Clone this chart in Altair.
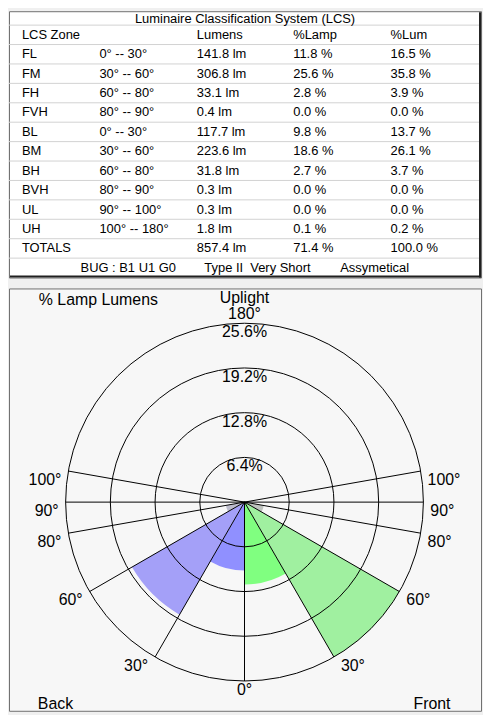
import math
import altair as alt
import pandas as pd

# ---------------- data ----------------
zones = ["FL", "FM", "FH", "FVH", "BL", "BM", "BH", "BVH", "UL", "UH"]
zone_ranges = ["0° -- 30°", "30° -- 60°", "60° -- 80°", "80° -- 90°",
               "0° -- 30°", "30° -- 60°", "60° -- 80°", "80° -- 90°",
               "90° -- 100°", "100° -- 180°"]
zone_start = [0, 30, 60, 80, 0, 30, 60, 80, 90, 100]
zone_end = [30, 60, 80, 90, 30, 60, 80, 90, 100, 180]
zone_side = ["Front", "Front", "Front", "Front", "Back", "Back", "Back", "Back", "Up", "Up"]
lumens = [141.8, 306.8, 33.1, 0.4, 117.7, 223.6, 31.8, 0.3, 0.3, 1.8]
pct_lamp = [11.8, 25.6, 2.8, 0.0, 9.8, 18.6, 2.7, 0.0, 0.0, 0.1]
pct_lum = [16.5, 35.8, 3.9, 0.0, 13.7, 26.1, 3.7, 0.0, 0.0, 0.2]
total_lumens = 857.4
total_lamp = 71.4
total_lum = 100.0
table_title = "Luminaire Classification System (LCS)"
header = ["LCS Zone", "", "Lumens", "%Lamp", "%Lum"]
bug_texts = ["BUG : B1 U1 G0", "Type II\u00a0 Very Short", "Assymetical"]

ring_values = [6.4, 12.8, 19.2, 25.6]
ray_angles = [0, 30, 60, 80, 90, 100]
angle_labels = [30, 60, 80, 90, 100]

zone_colors = ["#80ff80", "#a0f0a0", "#c0c4c0", "#c0c4c0",
               "#9090ff", "#a4a0f8", "#bcbccc", "#bcbccc",
               "#707070", "#707070"]

# ---------------- layout ----------------
FONT = "Liberation Sans"
W = 475
TABLE_H = 268
TITLE_H = 14
GAP = 8
POLAR_H = 701 - TABLE_H - GAP
R_MAX = 25.6
R_PX = 180
k = R_PX / R_MAX
CX, CY = 237, 215

# ---------------- table ----------------
row_keys = ["header"] + zones + ["totals", "bug"]
cells = []
for c, h in zip(["c1", "c2", "c3", "c4", "c5"], header):
    if h:
        cells.append(dict(row="header", col=c, text=h))
for i, z in enumerate(zones):
    cells.append(dict(row=z, col="c1", text=z))
    cells.append(dict(row=z, col="c2", text=zone_ranges[i]))
    cells.append(dict(row=z, col="c3", text=f"{lumens[i]:.1f} lm"))
    cells.append(dict(row=z, col="c4", text=f"{pct_lamp[i]:.1f} %"))
    cells.append(dict(row=z, col="c5", text=f"{pct_lum[i]:.1f} %"))
cells.append(dict(row="totals", col="c1", text="TOTALS"))
cells.append(dict(row="totals", col="c3", text=f"{total_lumens:.1f} lm"))
cells.append(dict(row="totals", col="c4", text=f"{total_lamp:.1f} %"))
cells.append(dict(row="totals", col="c5", text=f"{total_lum:.1f} %"))
for c, t in zip(["b1", "b2", "b3"], bug_texts):
    cells.append(dict(row="bug", col=c, text=t))
cells_df = pd.DataFrame(cells)

col_x = {"c1": 13, "c2": 91, "c3": 189, "c4": 286, "c5": 384,
         "b1": 120, "b2": 250, "b3": 368}
col_align = {"c1": "left", "c2": "left", "c3": "left", "c4": "left", "c5": "left",
             "b1": "center", "b2": "center", "b3": "center"}

yrow = alt.Scale(domain=row_keys, range=[TITLE_H, TABLE_H], paddingInner=0, paddingOuter=0)

table_layers = []
lines_df = pd.DataFrame({"row": row_keys})
table_layers.append(
    alt.Chart(lines_df).mark_rule(color="#d2d2d2", strokeWidth=1).encode(
        y=alt.Y("row:N", scale=yrow, axis=None, bandPosition=0),
        x=alt.value(0), x2=alt.value(W),
    )
)
for c in col_x:
    table_layers.append(
        alt.Chart(cells_df).transform_filter(alt.datum.col == c)
        .mark_text(font=FONT, fontSize=13, align=col_align[c], baseline="middle", color="black")
        .encode(
            y=alt.Y("row:N", scale=yrow, axis=None),
            x=alt.value(col_x[c]),
            text="text:N",
        )
    )
title_df = pd.DataFrame({"text": [table_title]})
table_layers.append(
    alt.Chart(title_df).mark_text(font=FONT, fontSize=13, align="center", baseline="middle",
                                  color="black").encode(
        x=alt.value(W / 2), y=alt.value(TITLE_H / 2 + 0.5), text="text:N"))
border_df = pd.DataFrame({"b": [0]})
table_layers.append(
    alt.Chart(border_df).mark_rule(color="#202020", strokeWidth=2).encode(
        x=alt.value(W - 1), y=alt.value(1), y2=alt.value(TABLE_H)))
table_layers.append(
    alt.Chart(border_df).mark_rule(color="#202020", strokeWidth=2).encode(
        x=alt.value(1), x2=alt.value(W), y=alt.value(TABLE_H - 1)))

table = alt.layer(*table_layers).properties(
    width=W, height=TABLE_H,
    view=alt.ViewBackground(fill="white", stroke="#707070", strokeWidth=1),
)

# ---------------- polar ----------------
xs = alt.Scale(domain=[-CX / k, (W - CX) / k], nice=False, zero=False)
ys = alt.Scale(domain=[-(POLAR_H - CY) / k, CY / k], nice=False, zero=False)
ts = alt.Scale(domain=[0, 360], range=[0, 2 * math.pi])
rs = alt.Scale(type="linear", domain=[0, R_MAX], range=[0, R_PX], zero=True)

wrows = []
for i, z in enumerate(zones):
    sides = ["Front", "Back"] if zone_side[i] == "Up" else [zone_side[i]]
    for s in sides:
        wrows.append(dict(zone=z, side=s, start=zone_start[i], end=zone_end[i], pct=pct_lamp[i]))
wedge_df = pd.DataFrame(wrows)

XC = alt.X("cx:Q", scale=xs, axis=None)
YC = alt.Y("cy:Q", scale=ys, axis=None)

wedges = alt.Chart(wedge_df).transform_calculate(
    cx="0", cy="0",
    t1="datum.side == 'Front' ? 180 - datum.end : 180 + datum.start",
    t2="datum.side == 'Front' ? 180 - datum.start : 180 + datum.end",
).mark_arc(strokeWidth=0).encode(
    x=XC, y=YC,
    theta=alt.Theta("t1:Q", scale=ts),
    theta2="t2:Q",
    radius=alt.Radius("pct:Q", scale=rs),
    color=alt.Color("zone:N", scale=alt.Scale(domain=zones, range=zone_colors), legend=None),
)

rings_df = pd.DataFrame({"ring": ring_values,
                         "label": [f"{v:.1f}%" for v in ring_values]})
rings = alt.Chart(rings_df).transform_calculate(
    cx="0", cy="0", t1="0", t2="360"
).mark_arc(fillOpacity=0, stroke="black", strokeWidth=1).encode(
    x=XC, y=YC,
    theta=alt.Theta("t1:Q", scale=ts), theta2="t2:Q",
    radius=alt.Radius("ring:Q", scale=rs),
)

rays_df = pd.DataFrame([dict(angle=a, side=s) for a in ray_angles for s in [1, -1]])
rays = alt.Chart(rays_df).transform_calculate(
    cx="0", cy="0",
    rx=f"datum.side * {R_MAX} * sin(datum.angle * PI / 180)",
    ry=f"-{R_MAX} * cos(datum.angle * PI / 180)",
).mark_rule(color="black", strokeWidth=1).encode(
    x=XC, y=YC, x2="rx:Q", y2="ry:Q",
)

ring_labels = alt.Chart(rings_df).transform_calculate(cx="0").mark_text(
    font=FONT, fontSize=16, baseline="top", dy=1, color="black"
).encode(x=XC, y=alt.Y("ring:Q", scale=ys, axis=None), text="label:N")

lab_df = pd.DataFrame({"angle": angle_labels,
                       "label": [f"{a}°" for a in angle_labels]})

def side_labels(sign, align, dx):
    return alt.Chart(lab_df).transform_calculate(
        lx=f"{sign} * {R_MAX} * sin(datum.angle * PI / 180)",
        ly=f"-{R_MAX} * cos(datum.angle * PI / 180)",
    ).mark_text(font=FONT, fontSize=16, align=align, baseline="top", dx=dx, dy=1,
                color="black").encode(
        x=alt.X("lx:Q", scale=xs, axis=None),
        y=alt.Y("ly:Q", scale=ys, axis=None),
        text="label:N",
    )

right_labels = side_labels(1, "left", 7)
left_labels = side_labels(-1, "right", -7)

end_df = pd.DataFrame({"pos": [-R_MAX, R_MAX], "label": ["0°", "180°"]})
zero_label = alt.Chart(end_df).transform_filter(alt.datum.pos < 0).transform_calculate(
    cx="0").mark_text(
    font=FONT, fontSize=16, align="center", baseline="top", dy=1, color="black"
).encode(x=XC, y=alt.Y("pos:Q", scale=ys, axis=None), text="label:N")
top_label = alt.Chart(end_df).transform_filter(alt.datum.pos > 0).transform_calculate(
    cx="0").mark_text(
    font=FONT, fontSize=16, align="center", baseline="alphabetic", dy=-4, color="black"
).encode(x=XC, y=alt.Y("pos:Q", scale=ys, axis=None), text="label:N")

corner_df = pd.DataFrame({"t": [0]})

def corner(text, x, y, align):
    return alt.Chart(corner_df).mark_text(
        font=FONT, fontSize=16, align=align, baseline="alphabetic", color="black", text=text
    ).encode(x=alt.value(x), y=alt.value(y))

polar = alt.layer(
    wedges, rings, rays, ring_labels, right_labels, left_labels, zero_label, top_label,
    corner("% Lamp Lumens", 30, 17, "left"),
    corner("Uplight", CX, 15, "center"),
    corner("Back", 29, POLAR_H - 2, "left"),
    corner("Front", 407, POLAR_H - 2, "left"),
).properties(
    width=W, height=POLAR_H,
    view=alt.ViewBackground(fill="#f7f7f7", stroke="#707070", strokeWidth=1),
)

chart = alt.vconcat(table, polar, spacing=GAP).properties(
    padding=0, background="#f0f0f0"
).configure_view(strokeWidth=1)

chart.save("out.html", embed_options={"renderer": "svg", "actions": False})
